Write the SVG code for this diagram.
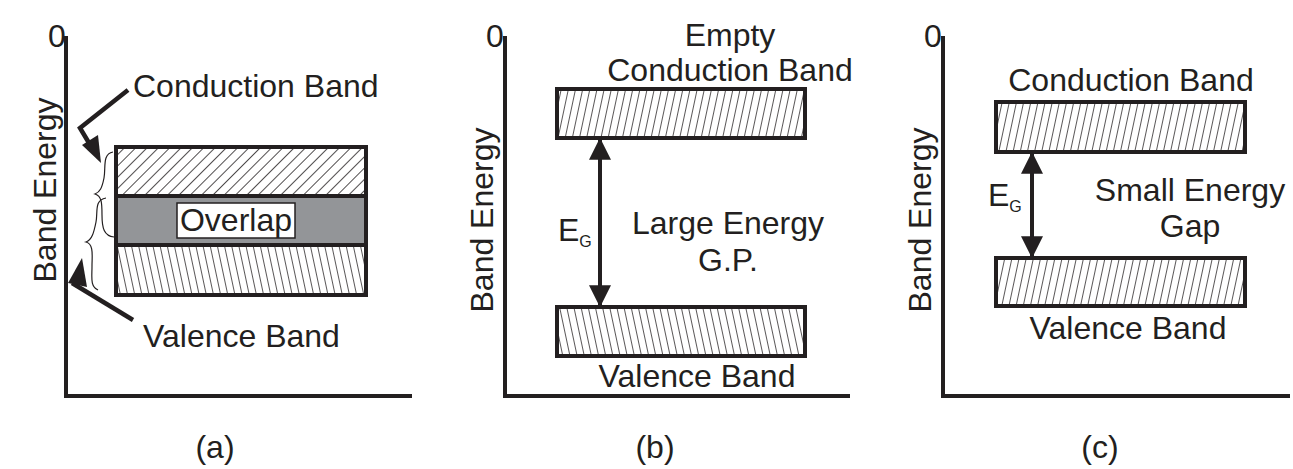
<svg xmlns="http://www.w3.org/2000/svg" width="1293" height="469" viewBox="0 0 1293 469">
<style>
text{font-family:"Liberation Sans",Arial,sans-serif;fill:#231f20;font-size:32px}
.ax{stroke:#231f20;stroke-width:4;fill:none}
.bx{stroke:#231f20;stroke-width:4}
.br{stroke:#231f20;stroke-width:1.2;fill:none}
</style>
<defs>
<pattern id="h45" width="8" height="8" patternUnits="userSpaceOnUse" patternTransform="rotate(45)"><rect width="8" height="8" fill="#fff"/><line x1="0" y1="0" x2="0" y2="8" stroke="#231f20" stroke-width="1.6"/></pattern>
<pattern id="hb" width="7" height="7" patternUnits="userSpaceOnUse" patternTransform="rotate(-12)"><rect width="7" height="7" fill="#fff"/><line x1="0" y1="0" x2="0" y2="7" stroke="#231f20" stroke-width="1.5"/></pattern>
<pattern id="hf" width="7" height="7" patternUnits="userSpaceOnUse" patternTransform="rotate(12)"><rect width="7" height="7" fill="#fff"/><line x1="0" y1="0" x2="0" y2="7" stroke="#231f20" stroke-width="1.5"/></pattern>
<marker id="ah" viewBox="0 0 10 10" refX="9" refY="5" markerWidth="6" markerHeight="5.5" orient="auto-start-reverse"><path d="M0,0L10,5L0,10z" fill="#231f20"/></marker>
</defs>
<g id="panel-a">
<path class="ax" d="M66,36V396H412"/>
<text x="48" y="47" font-size="30">0</text>
<text transform="translate(56,190) rotate(-90)" text-anchor="middle">Band Energy</text>
<rect x="116" y="147" width="250" height="49" fill="url(#h45)" class="bx"/>
<rect x="116" y="196" width="250" height="49" fill="#939598" class="bx"/>
<rect x="116" y="245" width="250" height="50" fill="url(#hb)" class="bx"/>
<rect x="177" y="203" width="118" height="35" fill="#fff" stroke="#231f20" stroke-width="1.5"/>
<text x="236" y="231" text-anchor="middle">Overlap</text>
<path class="br" d="M113,152 C102,154 106,168 104,178 C102,188 100,192 95,194 C102,196 102,204 102,215 C102,228 104,236 114,237"/>
<path class="br" d="M106,198 C94,200 98,212 96,222 C94,232 92,240 86,242 C94,244 92,256 92,266 C92,278 90,286 98,290"/>
<text x="133" y="97">Conduction Band</text>
<text x="143" y="347">Valence Band</text>
<g id="conn-a">
<path d="M128,90L80,128L92,148" fill="none" stroke="#231f20" stroke-width="4.5"/>
<path d="M101,163L82,145L98,135z" fill="#231f20"/>
<path d="M133,320L72,283" fill="none" stroke="#231f20" stroke-width="4.5"/>
<path d="M68,283L82,258L87,287z" fill="#231f20"/>
</g>
<text x="215" y="458" text-anchor="middle">(a)</text>
</g>
<g id="panel-b">
<path class="ax" d="M505,36V396H850"/>
<text x="486" y="47" font-size="30">0</text>
<text transform="translate(493,220) rotate(-90)" text-anchor="middle">Band Energy</text>
<text x="730" y="46" text-anchor="middle">Empty</text>
<text x="730" y="81" text-anchor="middle">Conduction Band</text>
<rect x="557" y="89" width="248" height="49" fill="url(#hf)" class="bx"/>
<rect x="557" y="307" width="248" height="49" fill="url(#hb)" class="bx"/>
<text x="697" y="387" text-anchor="middle">Valence Band</text>
<line x1="600" y1="140" x2="600" y2="305" stroke="#231f20" stroke-width="4" marker-start="url(#ah)" marker-end="url(#ah)"/>
<text x="558" y="241">E<tspan font-size="16" dy="6">G</tspan></text>
<text x="728" y="234" text-anchor="middle">Large Energy</text>
<text x="728" y="271" text-anchor="middle">G.P.</text>
<text x="655" y="458" text-anchor="middle">(b)</text>
</g>
<g id="panel-c">
<path class="ax" d="M943,36V396H1290"/>
<text x="924" y="47" font-size="30">0</text>
<text transform="translate(931,220) rotate(-90)" text-anchor="middle">Band Energy</text>
<text x="1131" y="91" text-anchor="middle">Conduction Band</text>
<rect x="996" y="102" width="249" height="50" fill="url(#hf)" class="bx"/>
<rect x="996" y="258" width="249" height="48" fill="url(#hf)" class="bx"/>
<text x="1128" y="339" text-anchor="middle">Valence Band</text>
<line x1="1032" y1="154" x2="1032" y2="256" stroke="#231f20" stroke-width="4" marker-start="url(#ah)" marker-end="url(#ah)"/>
<text x="988" y="206">E<tspan font-size="16" dy="6">G</tspan></text>
<text x="1190" y="201" text-anchor="middle">Small Energy</text>
<text x="1190" y="237" text-anchor="middle">Gap</text>
<text x="1100" y="458" text-anchor="middle">(c)</text>
</g>
</svg>
